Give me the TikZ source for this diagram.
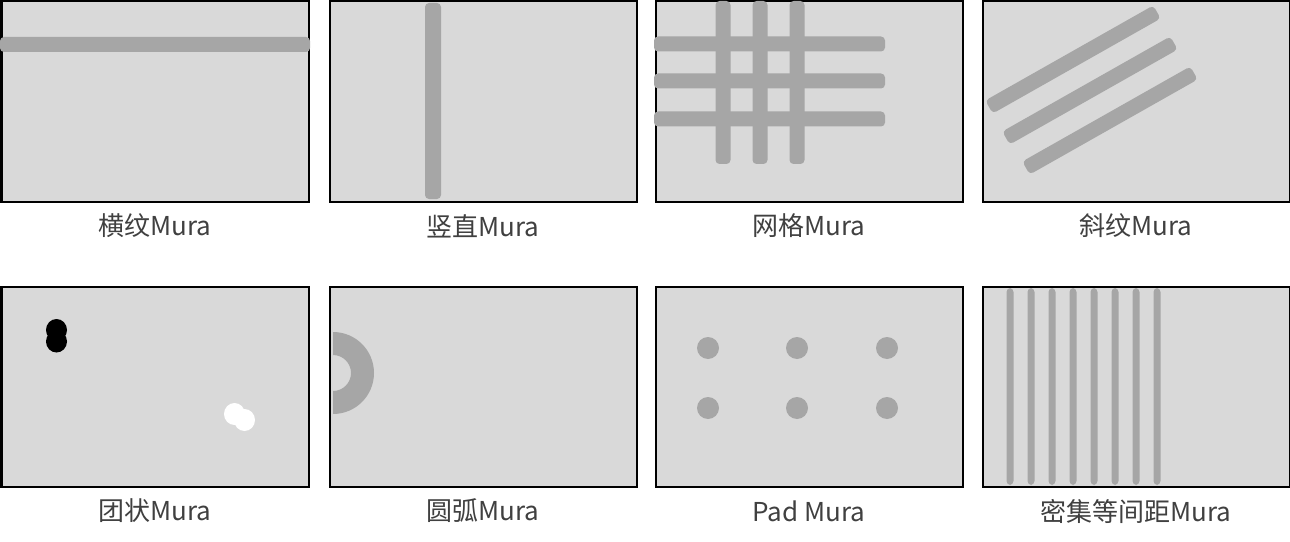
\documentclass[tikz,border=0pt]{standalone}
\usepackage{fontspec}
\setmainfont{Noto Sans CJK SC}
\definecolor{panelgray}{HTML}{D9D9D9}
\definecolor{muragray}{HTML}{A6A6A6}
\definecolor{labelgray}{HTML}{404040}
\begin{document}
\begin{tikzpicture}[x=0.75pt,y=-0.75pt,
    panel/.style={draw=black,line width=1.5pt,fill=panelgray},
    murabar/.style={fill=muragray,rounded corners=3pt},
    muralabel/.style={text=labelgray,font=\fontsize{19.5}{22}\selectfont}]
    \useasboundingbox (0,0) rectangle (1290,542);
    % panels and their labels
    \foreach \px/\py/\name/\txt in {1.5/1.5/lblHeng/横纹Mura, 329.5/1.5/lblShu/竖直Mura,
        655.5/1.5/lblGrid/网格Mura, 982.5/1.5/lblSlant/斜纹Mura,
        1.5/286.5/lblBlob/团状Mura, 329.5/286.5/lblArc/圆弧Mura,
        655.5/286.5/lblPad/Pad Mura, 982.5/286.5/lblDense/密集等间距Mura}{
        \draw[panel] (\px,\py) rectangle ++(307,200);
        \node[muralabel] (\name) at (\px+153.5,\py+224.5) {\txt};
    }
    % horizontal
    \fill[murabar] (0,37) rectangle (310,52);
    % vertical
    \fill[murabar] (425,3) rectangle (441,199);
    % grid
    \foreach \gx in {723,760,797}
        \fill[murabar] (\gx-7.5,1) rectangle (\gx+7.5,164);
    \foreach \gy in {44,81,119}
        \fill[murabar] (654,\gy-7.5) rectangle (885,\gy+7.5);
    % slanted
    \foreach \sx/\sy in {989/107, 1006/138, 1026/168}
        \fill[murabar,rotate around={29.5:(\sx,\sy)}] (\sx,\sy-7.5) rectangle ++(193,15);
    % blobs
    \fill[black] (56.5,330) ellipse [x radius=10.5,y radius=11];
    \fill[black] (56.5,341.5) ellipse [x radius=10.5,y radius=11];
    \fill[white] (234.5,414) ellipse [x radius=10.5,y radius=11];
    \fill[white] (244.5,420) ellipse [x radius=10.5,y radius=11];
    % arc
    \fill[muragray] (333,332) arc[start angle=-90,end angle=90,radius=41]
        -- (333,391) arc[start angle=90,end angle=-90,radius=18] -- cycle;
    % pads
    \foreach \dx in {708,797,887}
        \foreach \dy in {348,408}
            \fill[muragray] (\dx,\dy) circle[radius=11];
    % dense lines
    \foreach \lx in {1010,1031,...,1157}
        \fill[murabar] (\lx-3.5,288) rectangle (\lx+3.5,485);
\end{tikzpicture}
\end{document}
